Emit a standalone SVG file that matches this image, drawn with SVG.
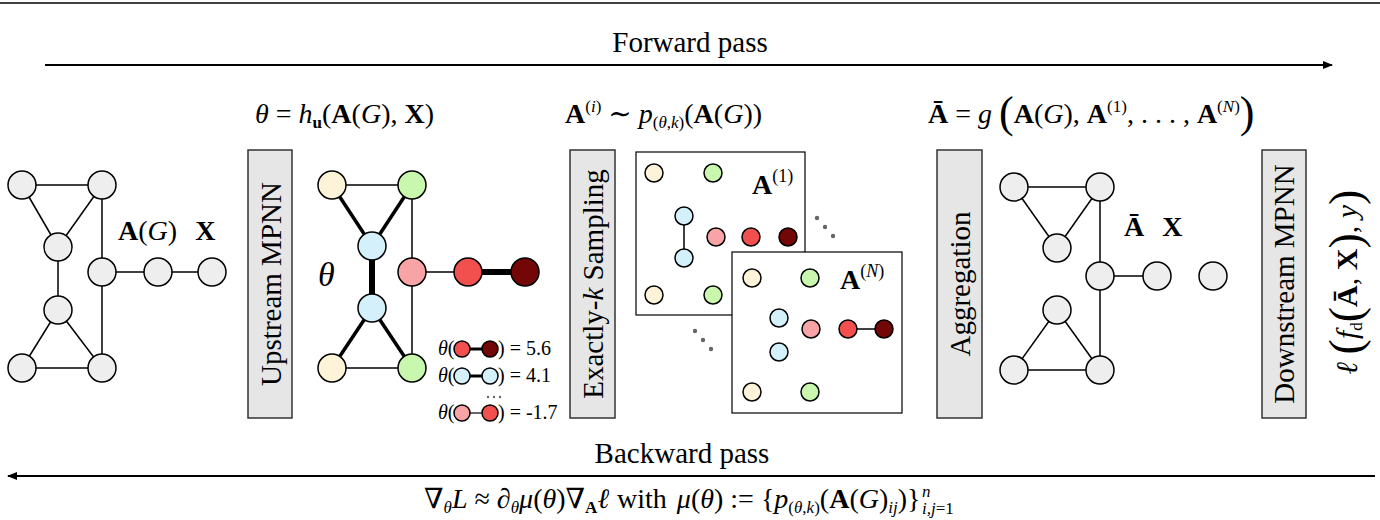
<svg xmlns="http://www.w3.org/2000/svg" width="1380" height="520" viewBox="0 0 1380 520" font-family="'Liberation Serif', 'Times New Roman', 'DejaVu Serif', serif">
<style>
text{font-family:'Liberation Serif','Times New Roman','DejaVu Serif',serif;fill:#000}
.n{stroke:#000;stroke-width:1.5;fill:#eee}
.s{stroke:#000;stroke-width:1.5}
.e{stroke:#000;stroke-width:1.5;fill:none}
.t{stroke:#000;stroke-width:3.5;fill:none}
.tt{stroke:#000;stroke-width:6;fill:none}
.box{fill:#e6e6e6;stroke:#333;stroke-width:1.5}
.card{fill:#fff;stroke:#000;stroke-width:1.2}
.y{fill:#fdf3d8}.g{fill:#c9f7ad}.b{fill:#d4f1fb}.p{fill:#f8a4a6}.r{fill:#f24f4f}.d{fill:#730606}
.m{font-size:28px}
.i{font-style:italic}
.bd{font-weight:bold}
.dot{fill:#666}
</style>
<defs>
<marker id="ah" markerWidth="10" markerHeight="8" refX="9" refY="4" orient="auto" markerUnits="userSpaceOnUse"><path d="M0,0 L10,4 L0,8 z" fill="#000"/></marker>
</defs>
<line x1="0" y1="3" x2="1380" y2="3" stroke="#000" stroke-width="1.5"/>
<g id="connectors">
<line x1="45" y1="65" x2="1332" y2="65" stroke="#000" stroke-width="2" marker-end="url(#ah)"/>
<line x1="1375" y1="476" x2="8" y2="476" stroke="#000" stroke-width="2" marker-end="url(#ah)"/>
<g class="e">
<line x1="22" y1="185" x2="102" y2="185"/><line x1="22" y1="185" x2="58" y2="247"/><line x1="102" y1="185" x2="58" y2="247"/>
<line x1="102" y1="185" x2="102" y2="368"/><line x1="58" y1="247" x2="58" y2="310"/>
<line x1="58" y1="310" x2="22" y2="368"/><line x1="58" y1="310" x2="102" y2="368"/><line x1="22" y1="368" x2="102" y2="368"/>
<line x1="102" y1="272" x2="212" y2="272"/>
</g>
<line class="e" x1="332" y1="185" x2="412" y2="185"/>
<line class="t" x1="332" y1="185" x2="372" y2="246"/>
<line class="t" x1="412" y1="185" x2="372" y2="246"/>
<line class="tt" x1="372" y1="246" x2="372" y2="308"/>
<line class="t" x1="372" y1="308" x2="332" y2="368"/>
<line class="t" x1="372" y1="308" x2="412" y2="368"/>
<line class="e" x1="332" y1="368" x2="412" y2="368"/>
<line class="e" x1="412" y1="185" x2="412" y2="368"/>
<line class="e" x1="412" y1="272" x2="468" y2="272"/>
<line class="tt" x1="468" y1="272" x2="525" y2="272"/>
<g class="e">
<line x1="1014" y1="187" x2="1100" y2="187"/><line x1="1014" y1="187" x2="1057" y2="248"/><line x1="1100" y1="187" x2="1057" y2="248"/>
<line x1="1100" y1="187" x2="1100" y2="370"/><line x1="1100" y1="276" x2="1157" y2="276"/>
<line x1="1057" y1="310" x2="1014" y2="370"/><line x1="1057" y1="310" x2="1100" y2="370"/><line x1="1014" y1="370" x2="1100" y2="370"/>
</g>
</g>
<text x="690" y="52" font-size="29" text-anchor="middle">Forward pass</text>
<text x="682" y="463" font-size="29" text-anchor="middle">Backward pass</text>
<text x="424" y="508" class="m">∇<tspan class="i" font-size="17" dy="5">θ</tspan><tspan class="i" dy="-5">L</tspan> ≈ ∂<tspan class="i" font-size="17" dy="5">θ</tspan><tspan class="i" dy="-5">μ</tspan>(<tspan class="i">θ</tspan>)∇<tspan class="bd" font-size="17" dy="5">A</tspan><tspan class="i" dy="-5">ℓ</tspan><tspan dx="8">with</tspan><tspan class="i" dx="10">μ</tspan>(<tspan class="i">θ</tspan>) := {<tspan class="i">p</tspan><tspan font-size="17" dy="5">(<tspan class="i">θ</tspan>,<tspan class="i">k</tspan>)</tspan><tspan dy="-5">(</tspan><tspan class="bd">A</tspan>(<tspan class="i">G</tspan>)<tspan class="i" font-size="17" dy="5">ij</tspan><tspan dy="-5">)}</tspan></text>
<text x="922" y="497" font-size="17" class="i">n</text>
<text x="922" y="514" font-size="17"><tspan class="i">i,j</tspan>=1</text>
<text x="255" y="123" class="m"><tspan class="i">θ</tspan> = <tspan class="i">h</tspan><tspan class="bd" font-size="17" dy="5">u</tspan><tspan dy="-5">(</tspan><tspan class="bd">A</tspan>(<tspan class="i">G</tspan>), <tspan class="bd">X</tspan>)</text>
<text x="565" y="123" class="m"><tspan class="bd">A</tspan><tspan font-size="17" dy="-11">(<tspan class="i">i</tspan>)</tspan><tspan dy="11"> ∼ </tspan><tspan class="i">p</tspan><tspan font-size="17" dy="5">(<tspan class="i">θ</tspan>,<tspan class="i">k</tspan>)</tspan><tspan dy="-5">(</tspan><tspan class="bd">A</tspan>(<tspan class="i">G</tspan>))</text>
<text x="928" y="123" class="m"><tspan class="bd">Ā</tspan> = <tspan class="i">g</tspan> <tspan font-size="44" dy="4">(</tspan><tspan dy="-4" class="bd">A</tspan>(<tspan class="i">G</tspan>), <tspan class="bd">A</tspan><tspan font-size="17" dy="-11">(1)</tspan><tspan dy="11">, . . . , </tspan><tspan class="bd">A</tspan><tspan font-size="17" dy="-11">(<tspan class="i">N</tspan>)</tspan><tspan font-size="44" dy="15">)</tspan></text>
<g id="graph-input">
<circle class="n" cx="22" cy="185" r="14"/><circle class="n" cx="102" cy="185" r="14"/><circle class="n" cx="58" cy="247" r="14"/>
<circle class="n" cx="58" cy="310" r="14"/><circle class="n" cx="22" cy="368" r="14"/><circle class="n" cx="102" cy="368" r="14"/>
<circle class="n" cx="102" cy="272" r="14"/><circle class="n" cx="158" cy="272" r="14"/><circle class="n" cx="212" cy="272" r="14"/>
<text x="118" y="240" class="m"><tspan class="bd">A</tspan>(<tspan class="i">G</tspan>)<tspan class="bd" dx="18">X</tspan></text>
</g>
<g id="upstream">
<rect class="box" x="248" y="150" width="44" height="268"/>
<text transform="translate(281,284) rotate(-90)" font-size="29" text-anchor="middle">Upstream MPNN</text>
</g>
<g id="graph-theta">
<circle class="s y" cx="332" cy="185" r="14"/><circle class="s g" cx="412" cy="185" r="14"/>
<circle class="s b" cx="372" cy="246" r="14"/><circle class="s b" cx="372" cy="308" r="14"/>
<circle class="s y" cx="332" cy="368" r="14"/><circle class="s g" cx="412" cy="368" r="14"/>
<circle class="s p" cx="412" cy="272" r="14"/><circle class="s r" cx="468" cy="272" r="14"/><circle class="s d" cx="525" cy="272" r="14"/>
<text x="318" y="286" font-size="34" class="i">θ</text>
</g>
<g id="legend" font-size="20">
<text x="438" y="355"><tspan class="i">θ</tspan>(</text>
<line x1="462" y1="349" x2="490" y2="349" stroke="#000" stroke-width="3"/>
<circle class="s r" cx="462" cy="349" r="8" stroke-width="1"/><circle class="s d" cx="490" cy="349" r="8" stroke-width="1"/>
<text x="498" y="355">) =  5.6</text>
<text x="438" y="382"><tspan class="i">θ</tspan>(</text>
<line x1="462" y1="376" x2="490" y2="376" stroke="#000" stroke-width="3"/>
<circle class="s b" cx="462" cy="376" r="8" stroke-width="1"/><circle class="s b" cx="490" cy="376" r="8" stroke-width="1"/>
<text x="498" y="382">) =  4.1</text>
<circle class="dot" cx="488" cy="397" r="1.2"/><circle class="dot" cx="494" cy="397" r="1.2"/><circle class="dot" cx="500" cy="397" r="1.2"/>
<text x="438" y="419"><tspan class="i">θ</tspan>(</text>
<line x1="462" y1="413" x2="490" y2="413" stroke="#000" stroke-width="1.2"/>
<circle class="s p" cx="462" cy="413" r="8" stroke-width="1"/><circle class="s r" cx="490" cy="413" r="8" stroke-width="1"/>
<text x="498" y="419">) = -1.7</text>
</g>
<g id="sampling">
<rect class="box" x="570" y="150" width="45" height="268"/>
<text transform="translate(603,284) rotate(-90)" font-size="29" text-anchor="middle">Exactly-<tspan class="i">k</tspan> Sampling</text>
</g>
<g id="sample-1">
<rect class="card" x="636" y="152" width="169" height="163"/>
<line class="e" x1="684" y1="216" x2="684" y2="258"/>
<circle class="s y" cx="654" cy="173" r="9"/><circle class="s g" cx="713" cy="173" r="9"/>
<circle class="s b" cx="684" cy="216" r="9"/><circle class="s b" cx="684" cy="258" r="9"/>
<circle class="s p" cx="716" cy="237" r="9"/><circle class="s r" cx="751" cy="237" r="9"/><circle class="s d" cx="788" cy="237" r="9"/>
<circle class="s y" cx="654" cy="295" r="9"/><circle class="s g" cx="713" cy="295" r="9"/>
<text x="752" y="194" class="m"><tspan class="bd">A</tspan><tspan font-size="18" dy="-12">(1)</tspan></text>
</g>
<g id="ellipsis" class="dot">
<circle cx="817" cy="218" r="2.2"/><circle cx="825" cy="227" r="2.2"/><circle cx="833" cy="236" r="2.2"/>
<circle cx="695" cy="331" r="2.2"/><circle cx="703" cy="340" r="2.2"/><circle cx="711" cy="349" r="2.2"/>
</g>
<g id="sample-N">
<rect class="card" x="732" y="252" width="170" height="161"/>
<line class="e" x1="848" y1="329" x2="884" y2="329"/>
<circle class="s y" cx="752" cy="278" r="9"/><circle class="s g" cx="810" cy="278" r="9"/>
<circle class="s b" cx="779" cy="318" r="9"/><circle class="s b" cx="779" cy="352" r="9"/>
<circle class="s p" cx="811" cy="329" r="9"/><circle class="s r" cx="848" cy="329" r="9"/><circle class="s d" cx="884" cy="329" r="9"/>
<circle class="s y" cx="752" cy="392" r="9"/><circle class="s g" cx="810" cy="392" r="9"/>
<text x="840" y="289" class="m"><tspan class="bd">A</tspan><tspan font-size="18" dy="-12">(<tspan class="i">N</tspan>)</tspan></text>
</g>
<g id="aggregation">
<rect class="box" x="937" y="150" width="45" height="268"/>
<text transform="translate(970,284) rotate(-90)" font-size="29" text-anchor="middle">Aggregation</text>
</g>
<g id="graph-agg">
<circle class="n" cx="1014" cy="187" r="14"/><circle class="n" cx="1100" cy="187" r="14"/><circle class="n" cx="1057" cy="248" r="14"/>
<circle class="n" cx="1100" cy="276" r="14"/><circle class="n" cx="1157" cy="276" r="14"/><circle class="n" cx="1213" cy="276" r="14"/>
<circle class="n" cx="1057" cy="310" r="14"/><circle class="n" cx="1014" cy="370" r="14"/><circle class="n" cx="1100" cy="370" r="14"/>
<text x="1124" y="236" class="m"><tspan class="bd">Ā</tspan><tspan class="bd" dx="18">X</tspan></text>
</g>
<g id="downstream">
<rect class="box" x="1262" y="150" width="44" height="268"/>
<text transform="translate(1294,284) rotate(-90)" font-size="29" text-anchor="middle">Downstream MPNN</text>
</g>
<g id="loss">
<text transform="translate(1357,282) rotate(-90)" font-size="30" text-anchor="middle"><tspan class="i">ℓ</tspan> <tspan font-size="46" dy="4">(</tspan><tspan class="i" dy="-4">f</tspan><tspan font-size="17" dy="5">d</tspan><tspan font-size="46" dy="-1">(</tspan><tspan class="bd" dy="-4">Ā</tspan>, <tspan class="bd">X</tspan><tspan font-size="46" dy="4">)</tspan><tspan dy="-4">, </tspan><tspan class="i">y</tspan><tspan font-size="46" dy="4">)</tspan></text>
</g>
</svg>
